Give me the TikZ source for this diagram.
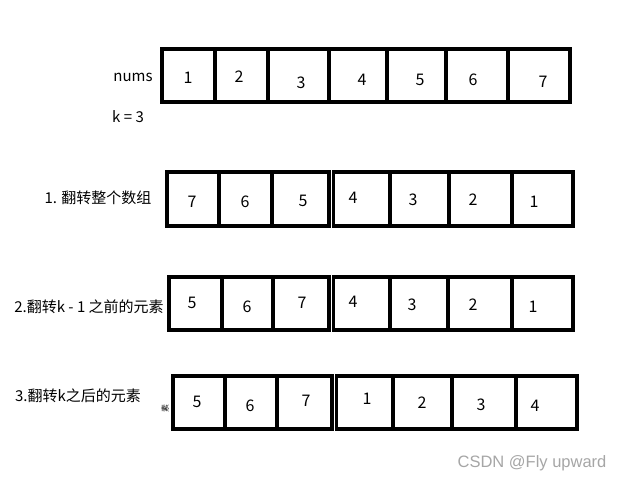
\documentclass[tikz,border=0pt]{standalone}
\usepackage{fontspec}
\setmainfont{Noto Sans CJK SC}
\newfontfamily\markfont{Liberation Sans}
\usetikzlibrary{positioning}

\begin{document}
\begin{tikzpicture}[
    x=1pt, y=-1pt,
    cell/.style={rectangle, draw, line width=3.3pt, inner sep=0pt, outer sep=0pt},
    num/.style={font=\fontsize{16}{18}\selectfont, inner sep=0pt},
    rowlabel/.style={font=\fontsize{15}{17}\selectfont, inner sep=0pt},
]
\useasboundingbox[fill=white] (0,0) rectangle (625,482);

% Original array
\node (nums) at (133,77) [rowlabel] {nums};
\node (k) at (128,117) [rowlabel] {k = 3};
\foreach \i/\a/\b/\n/\x/\y in {1/162/215/1/188/78, 2/215/268/2/239/77, 3/268/329/3/301/83, 4/329/387/4/362/80, 5/387/446/5/420/80, 6/446/508/6/473/80, 7/508/570/7/543/82}{
    \node (numsc\i) at ({(\a+\b)/2},75.5) [cell, minimum width={(\b-\a)*1pt}, minimum height=53pt] {};
    \node (numsv\i) at (\x,\y) [num] {\n};
}

% Step 1
\node (stepa) at (98,198) [rowlabel] {1. 翻转整个数组};
\foreach \i/\a/\b/\n/\x/\y in {1/167/219/7/192/202, 2/219/272/6/245/202, 3/272/329/5/303/201, 4/333.5/390/4/353/198, 5/390/449/3/413/200, 6/449/512/2/473/200, 7/512/573/1/534/202}{
    \node (stepac\i) at ({(\a+\b)/2},199) [cell, minimum width={(\b-\a)*1pt}, minimum height=54pt] {};
    \node (stepav\i) at (\x,\y) [num] {\n};
}

% Step 2
\node (stepb) at (89,307) [rowlabel] {2.翻转k - 1 之前的元素};
\foreach \i/\a/\b/\n/\x/\y in {1/169/222/5/192/303, 2/222/273/6/247/307, 3/273/329/7/302/303, 4/333.5/390/4/353/302, 5/390/448/3/412/305, 6/448/512/2/473/305, 7/512/573/1/533/307}{
    \node (stepbc\i) at ({(\a+\b)/2},303.5) [cell, minimum width={(\b-\a)*1pt}, minimum height=53pt] {};
    \node (stepbv\i) at (\x,\y) [num] {\n};
}

% Step 3
\node (stepc) at (78,396) [rowlabel] {3.翻转k之后的元素};
\node (stray) at (165,408) [rotate=90, font=\fontsize{8}{9}\selectfont, inner sep=0pt] {素};
\foreach \i/\a/\b/\n/\x/\y in {1/173/225/5/197/402, 2/225/277/6/250/406, 3/277/332/7/306/401, 4/336.5/393/1/367/399, 5/393/452/2/422/403, 6/452/516/3/481/405, 7/516/577/4/535/406}{
    \node (stepcc\i) at ({(\a+\b)/2},402.5) [cell, minimum width={(\b-\a)*1pt}, minimum height=53pt] {};
    \node (stepcv\i) at (\x,\y) [num] {\n};
}

\node (mark) at (532,463) [font=\markfont\fontsize{16.5}{18}\selectfont, text=gray!70, inner sep=0pt] {CSDN @Fly upward};

\end{tikzpicture}
\end{document}
